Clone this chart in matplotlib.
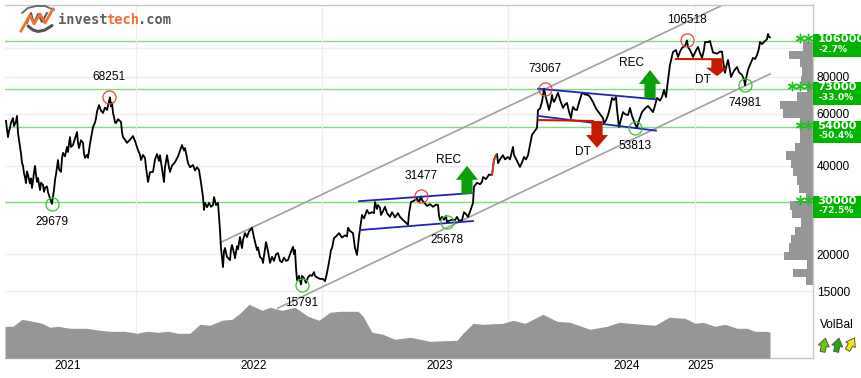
import numpy as np
import matplotlib
matplotlib.use('Agg')
import matplotlib.pyplot as plt
from matplotlib.patches import Polygon, Rectangle
from matplotlib.ticker import NullLocator
from matplotlib.transforms import IdentityTransform

plt.rcParams['font.family'] = ['Liberation Sans', 'DejaVu Sans']

# price series, x is a session counter along the chart
sessions = [1, 2, 3, 4, 5, 6, 8, 9, 11, 12, 13, 14, 15, 16, 17, 18, 19, 20, 21, 22, 23, 25, 26, 27, 28, 29, 30, 31, 32,
            33, 35, 36, 38, 39, 40, 42, 43, 45, 47, 48, 49, 50, 51, 53, 54, 56, 57, 58, 60, 62, 63, 64, 65, 66, 68, 70,
            72, 73, 74, 76, 78, 79, 80, 82, 83, 85, 88, 90, 91, 92, 94, 96, 98, 100, 102, 104, 105, 106, 107, 108, 109,
            110, 111, 113, 116, 117, 118, 120, 122, 125, 128, 130, 133, 135, 136, 138, 140, 141, 143, 145, 148, 150,
            152, 154, 155, 157, 159, 160, 162, 164, 165, 167, 170, 173, 177, 179, 180, 182, 183, 185, 188, 190, 192,
            194, 196, 197, 198, 199, 200, 202, 204, 206, 208, 209, 211, 213, 214, 215, 216, 218, 219, 220, 222, 225,
            226, 227, 229, 230, 232, 233, 235, 236, 237, 238, 240, 242, 244, 247, 249, 252, 253, 255, 257, 258, 260,
            261, 263, 265, 267, 269, 271, 273, 275, 277, 279, 281, 283, 285, 288, 289, 290, 291, 292, 294, 296, 297,
            299, 301, 303, 305, 307, 309, 310, 312, 315, 318, 320, 322, 324, 326, 327, 329, 331, 334, 337, 340, 342,
            343, 345, 348, 350, 352, 354, 357, 359, 362, 364, 367, 369, 370, 372, 373, 375, 376, 378, 380, 382, 385,
            387, 390, 393, 395, 398, 400, 403, 404, 406, 409, 412, 414, 416, 417, 419, 422, 425, 428, 431, 433, 434,
            435, 437, 439, 441, 442, 444, 447, 450, 452, 454, 457, 459, 461, 463, 465, 468, 469, 472, 475, 477, 478,
            481, 484, 487, 489, 491, 492, 493, 495, 498, 500, 503, 505, 508, 509, 510, 512, 515, 517, 519, 521, 523,
            525, 527, 529, 532, 533, 535, 537, 539, 541, 543, 544, 546, 547, 548, 549, 551, 553, 555, 558, 560, 562,
            564, 566, 567, 568, 570, 572, 574, 577, 580, 583, 585, 588, 591, 594, 598, 599, 601, 603, 605, 607, 609,
            611, 612, 614, 616, 618, 620, 623, 625, 627, 630, 632, 634, 637, 640, 643, 646, 648, 650, 652, 655, 657,
            659, 661, 663, 665, 666, 668, 671, 673, 675, 677, 680, 682, 683, 685, 687, 688, 691, 693, 695, 697, 699,
            700, 703, 705, 707, 708, 712, 715, 717, 718, 720, 721, 723, 725, 726, 729, 732, 734, 737, 739, 740, 741,
            743, 745, 748, 750, 752, 754, 755, 757, 760, 762, 763, 764, 765]
prices = [56800, 53000, 50000, 52500, 53700, 56000, 58000, 54500, 56500, 59000, 51600, 49000, 46300, 44000, 40800,
          40000, 37700, 36500, 34900, 38200, 37200, 34800, 36200, 33600, 35500, 38000, 39900, 37300, 35200, 36300,
          33060, 35000, 34400, 32600, 33600, 34000, 32500, 31000, 29679, 31500, 33060, 35750, 37400, 41800, 38900,
          38100, 42300, 44200, 43000, 46300, 44500, 47500, 50000, 46300, 47000, 49500, 52000, 47900, 45900, 48800,
          47800, 43900, 42500, 43500, 42500, 47500, 54100, 56000, 58000, 61000, 64200, 61500, 60400, 63000, 61800,
          66000, 68251, 63500, 65300, 60500, 58500, 56000, 55800, 57500, 56300, 52000, 50000, 49000, 47800, 49000,
          50400, 48500, 45200, 43500, 41800, 43500, 42500, 39500, 35200, 38000, 38100, 42000, 43800, 41500, 43400,
          39000, 35200, 39500, 43400, 39500, 38100, 40000, 41100, 43000, 47000, 45000, 45900, 42500, 40800, 39500,
          40200, 38500, 39500, 38650, 35000, 33060, 31300, 28280, 29900, 28900, 29900, 29000, 29400, 31300, 29400,
          29900, 27000, 24180, 21000, 18100, 20500, 21000, 19600, 19120, 20800, 21500, 20200, 19400, 21300, 20800,
          22900, 21800, 21000, 22400, 23600, 22900, 23900, 24600, 22800, 20680, 21100, 19600, 19300, 18700, 20800,
          22000, 20500, 18700, 19600, 19000, 20000, 20200, 19000, 18800, 19500, 19000, 19120, 20000, 21200, 20000,
          20680, 18000, 16350, 16900, 15791, 16900, 16600, 16000, 16700, 17000, 16900, 17400, 16900, 16700, 16500,
          16500, 16200, 17300, 18800, 20680, 21000, 22700, 23000, 23600, 22800, 23200, 23000, 24600, 24000, 23600,
          21000, 19900, 23000, 27200, 26500, 28280, 27500, 27800, 27600, 30100, 28500, 29400, 28800, 27200, 28000,
          29000, 27600, 26800, 27800, 26700, 27600, 26800, 26150, 25800, 25200, 27500, 30100, 30400, 31000, 30000,
          31477, 30580, 30000, 29200, 29600, 29000, 29500, 29400, 27000, 26150, 26800, 26200, 27000, 25678, 26000,
          26200, 26150, 26800, 26000, 26150, 27800, 27400, 26800, 27900, 29900, 33900, 35000, 34600, 35200, 36600,
          36000, 37300, 37200, 41800, 43500, 43800, 40800, 42000, 43400, 42000, 42800, 42000, 46300, 43500, 42800,
          41500, 39600, 41000, 42800, 42000, 43400, 47000, 50900, 52000, 53700, 61800, 62500, 65800, 73067, 67900,
          64000, 61800, 66000, 69500, 67000, 65800, 68000, 70700, 67000, 62800, 64500, 65300, 61000, 58000, 61000,
          63300, 62000, 61800, 65500, 70700, 69800, 69500, 68500, 65800, 62500, 60500, 58000, 55800, 57000, 59400,
          63000, 67900, 66800, 68400, 62000, 54100, 57500, 60800, 59800, 59400, 62800, 59000, 55500, 53813, 57000,
          60800, 62500, 63800, 62000, 60800, 64000, 67900, 66500, 68400, 72300, 68400, 78100, 88000, 91000, 97300,
          98800, 93500, 97500, 100400, 102000, 106518, 101000, 98800, 95500, 93500, 98500, 101200, 96500, 92900,
          99000, 105200, 105000, 106000, 100000, 96900, 96000, 97500, 97600, 91400, 82600, 86000, 91400, 84000, 80000,
          84000, 86500, 83000, 81300, 78500, 74981, 79000, 84500, 88000, 92900, 92000, 95000, 100000, 105200, 103500,
          106000, 107500, 112000, 109500, 109000]
red_from, red_to = 487, 491

vol_sessions = [0, 8, 17, 28, 37, 45, 53, 65, 82, 95, 105, 120, 132, 142, 153, 163, 173, 185, 195, 205, 217, 227, 235,
                244, 257, 265, 277, 290, 303, 314, 325, 335, 353, 358, 367, 378, 390, 405, 425, 452, 458, 468, 478,
                498, 508, 520, 538, 552, 565, 585, 602, 614, 625, 650, 664, 680, 690, 698, 710, 720, 732, 742, 750,
                762, 765]
vol_values = [32, 32, 39, 37, 35, 31, 32, 30, 30, 28, 27, 27, 25, 27, 26, 27, 25, 25, 34, 33, 38, 39, 45, 54, 48, 51,
              48, 51, 42, 38, 46, 47, 47, 42, 26, 24, 19, 21, 17, 18, 25, 35, 34, 35, 38, 35, 44, 37, 36, 29, 32, 36,
              35, 33, 41, 40, 35, 36, 32, 34, 30, 30, 27, 27, 26]

# traded volume per price bin, top to bottom
profile_top, profile_bottom = 105000, 15700
profile_widths = [9.3, 23.3, 12.7, 11, 12, 5.5, 15.3, 32.7, 30, 13, 13, 13, 18, 26.7, 22, 20, 16, 14, 6.7, 22.7, 21,
                  12, 17.7, 22, 24, 28.7, 6, 20, 6.7]

levels = [106000, 73000, 54000, 30000]
level_pct = ['-2.7%', '-33.0%', '-50.4%', '-72.5%']
level_stars = [2, 3, 2, 2]

peak_sessions = [104, 416, 540, 682]
peak_prices = [68251, 31477, 73067, 106518]
trough_sessions = [47, 297, 442, 630.5, 740]
trough_prices = [29679, 15791, 25678, 53813, 74981]

channel_upper_x, channel_upper_y = [215, 720], [21900, 141600]
channel_lower_x, channel_lower_y = [273, 765], [13140, 81900]
blue_lines = [([354, 468], [30300, 32300]), ([355, 468], [24180, 25950]),
              ([533, 651], [73000, 67200]), ([533, 651], [59000, 52600])]
red_lines = [([534, 588], [57150, 56700]), ([671, 718], [92100, 91900])]

grid_prices = [100000, 80000, 60000, 40000, 30000, 20000, 15000]
ytick_prices = [80000, 60000, 40000, 20000, 15000]
year_starts = [131, 317, 503, 690]
year_label_pos = [63, 249, 435, 622, 696]
year_labels = ['2021', '2022', '2023', '2024', '2025']

fig = plt.figure(figsize=(8.62, 3.78), dpi=100)
ax = fig.add_axes([5 / 862, (378 - 358.3) / 378, 807.7 / 862, 353.8 / 378])
ax.set_yscale('log')
ax.set_xlim(0, 807.7)
ax.set_ylim(8871, 141000)

for side in ['top', 'right', 'bottom']:
    ax.spines[side].set_color('#c8c8c8')
    ax.spines[side].set_linewidth(1)
ax.spines['left'].set_visible(False)

ax.set_xticks(year_label_pos, year_labels, fontsize=8.6)
ax.set_xticks(year_starts, minor=True)
ax.grid(True, which='minor', axis='x', color='#eeeeee', lw=0.9)
for p in grid_prices:
    ax.axhline(p, color='#eeeeee', lw=0.9, zorder=0.5)

for level in levels:
    ax.axhline(level, color='#80dc80', lw=1, zorder=1.5)

# volume profile on the right edge
edges = np.geomspace(profile_top, profile_bottom, len(profile_widths) + 1)
ax.barh(edges[:-1], profile_widths, height=np.diff(edges), left=807.7 - np.array(profile_widths), align='edge',
        color='#969696', zorder=2)

ax.plot(channel_upper_x, channel_upper_y, color='#a0a0a0', lw=1.2, zorder=2)
ax.plot(channel_lower_x, channel_lower_y, color='#a0a0a0', lw=1.2, zorder=2)
for xs, ys in blue_lines:
    ax.plot(xs, ys, color='#2222b4', lw=1.3, zorder=4)
for xs, ys in red_lines:
    ax.plot(xs, ys, color='#c81e00', lw=1.5, zorder=4)

s = np.array(sessions)
p = np.array(prices)
ax.plot(s, p, color='black', lw=1.3, zorder=3)
mask = (s >= red_from) & (s <= red_to)
ax.plot(s[mask], p[mask], color='#e04020', lw=1.3, zorder=3.5)

ax.plot(peak_sessions, peak_prices, 'o', ms=9.4, mfc='none', mec='#dc4a3a', mew=0.9, zorder=5)
ax.plot(trough_sessions, trough_prices, 'o', ms=9.4, mfc='none', mec='#38c038', mew=0.9, zorder=5)

for x, y in zip(peak_sessions, peak_prices):
    ax.annotate(str(y), (x, y), xytext=(0, 20), textcoords='offset pixels', ha='center', va='center', fontsize=8.6)
for x, y in zip(trough_sessions, trough_prices):
    ax.annotate(str(y), (x, y), xytext=(0, -18), textcoords='offset pixels', ha='center', va='center', fontsize=8.6)

# volume curve, own scale on top of the same box
ax2 = ax.twinx()
ax2.set_ylim(0, 353.8)
ax2.set_yticks([])
ax2.fill_between(vol_sessions, vol_values, color='#969696', lw=0)
for spine in ax2.spines.values():
    spine.set_visible(False)

# twinx moves the ticks to the left, so set them here
ax.yaxis.tick_right()
ax.set_yticks(ytick_prices, [str(v) for v in ytick_prices], fontsize=8.6)
ax.yaxis.set_minor_locator(NullLocator())
ax.tick_params(axis='both', which='both', length=0)
ax.tick_params(axis='y', pad=3)
ax.tick_params(axis='x', pad=1.5)
ax2.tick_params(axis='both', which='both', length=0)

fig.canvas.draw()
to_px = ax.transData.transform


def arrow(x, y, up, length, head, color):
    # block arrow anchored at the tail on a data point
    cx, cy = to_px((x, y))
    d = 1 if up else -1
    pts = [(cx - 5.6, cy), (cx + 5.6, cy), (cx + 5.6, cy + d * (length - head)), (cx + 11, cy + d * (length - head)),
           (cx, cy + d * length), (cx - 11, cy + d * (length - head)), (cx - 5.6, cy + d * (length - head))]
    fig.add_artist(Polygon(pts, closed=True, fc=color, ec='none', transform=IdentityTransform()))


arrow(462, 32100, True, 28, 14, '#0aa00a')
arrow(645, 67900, True, 28, 14, '#0aa00a')
arrow(592, 56700, False, 26.7, 12.7, '#c41a00')
arrow(712, 92000, False, 17, 8.4, '#c41a00')

sig_text = [('REC', 444, 32100, 34), ('REC', 627, 67900, 35), ('DT', 578, 56700, -31), ('DT', 698, 92000, -21)]
for label, x, y, dy in sig_text:
    ax.annotate(label, (x, y), xytext=(0, dy), textcoords='offset pixels', ha='center', va='center', fontsize=8.6)

# support and resistance tags outside the axes
for level, pct, n in zip(levels, level_pct, level_stars):
    cx, cy = to_px((807.7, level))
    fig.add_artist(Rectangle((cx, cy - 16), 60, 22.7, fc='#00b400', ec='none', transform=IdentityTransform()))
    fig.text(cx + 4.5, cy + 1.5, str(level), color='white', fontsize=8.2, fontweight='bold', family='DejaVu Sans',
             va='center', ha='left', transform=IdentityTransform())
    fig.text(cx + 6, cy - 8.5, pct, color='white', fontsize=6.6, fontweight='bold', family='DejaVu Sans',
             va='center', ha='left', transform=IdentityTransform())
    for i in range(n):
        fig.add_artist(plt.Line2D([cx - 4.5 - 8.2 * i], [cy + 2.5], marker=(6, 2, 0), ms=6.8, mec='#22c022', mew=1,
                                  ls='none', transform=IdentityTransform()))

fig.text(837, 378 - 325, 'VolBal', ha='center', va='center', fontsize=8.6, transform=IdentityTransform())
vol_icons = [(824, 345, -12, '#66cc00'), (837.5, 345, -12, '#22aa11'), (851, 344, -30, '#eeee00')]
icon = np.array([(-2.5, -7), (2.5, -7), (2.5, -1), (5.5, -1), (0, 7), (-5.5, -1), (-2.5, -1)])
for ix, iy, ang, col in vol_icons:
    a = np.deg2rad(ang)
    rot = np.array([[np.cos(a), -np.sin(a)], [np.sin(a), np.cos(a)]])
    pts = icon @ rot.T + [ix, 378 - iy]
    fig.add_artist(Polygon(pts, closed=True, fc=col, ec='#555555', lw=0.7, transform=IdentityTransform()))

# logo
logo = fig.add_axes([0, 0, 1, 1], facecolor='none')
logo.set_xlim(0, 862)
logo.set_ylim(378, 0)
logo.axis('off')
logo.plot([22, 28, 36, 45, 54], [13, 8, 6, 6, 10], color='#666666', lw=1.3, solid_capstyle='round')
logo.plot([28, 33, 38, 45, 52], [26, 30, 31.5, 30, 25.5], color='#555555', lw=2.2, solid_capstyle='round')
logo.plot([27, 31, 34, 38, 42, 47], [23, 13, 23, 14, 22, 13], color='#555555', lw=1.4)
logo.plot([21, 30, 34, 40, 45, 53], [31, 15, 24, 14, 23, 9], color='#f07030', lw=2)
for txt, x0, col in [('invest', 58, '#5e5e5e'), ('tech', 106, '#f07030'), ('.com', 138, '#5e5e5e')]:
    logo.text(x0, 20, txt, color=col, fontsize=9.9, fontweight='bold', family='DejaVu Sans Mono',
              ha='left', va='center')

assert len(sessions) == len(prices)
plt.savefig('out.png', dpi=100)
